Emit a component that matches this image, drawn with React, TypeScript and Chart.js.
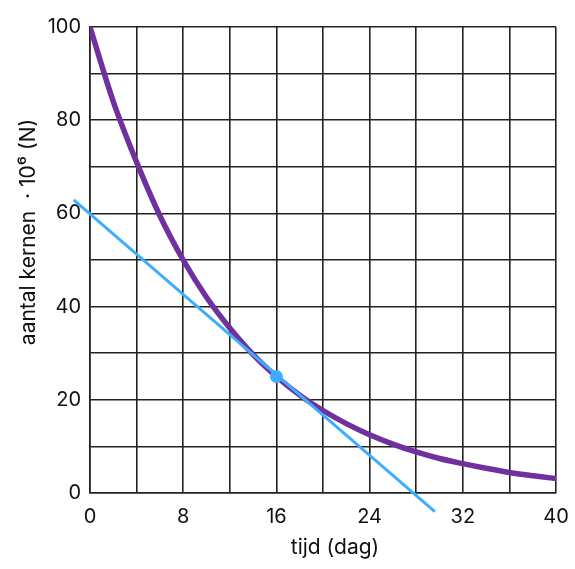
import React, { useEffect, useRef } from 'react';
import { Chart, registerables } from 'chart.js';

Chart.register(...registerables);

// tijd (dag) en aantal kernen (x 10^6)
const days = [0, 2, 4, 6, 8, 10, 12, 14, 16, 18, 20, 22, 24, 26, 28, 30, 32, 34, 36, 38, 40];
const nuclei = [100, 84, 71, 59.5, 50, 42, 35.4, 29.7, 25, 21, 17.7, 14.9, 12.5, 10.5, 8.8, 7.4, 6.3, 5.3, 4.4, 3.7, 3.1];

// raaklijn bij t = 16
const tangentX = [-1.4, 29.6];
const tangentY = [62.9, -4.0];
const pointX = [16];
const pointY = [25];

const xTicks = [0, 8, 16, 24, 32, 40];
const yTicks = [0, 20, 40, 60, 80, 100];

const xTitle = 'tijd (dag)';
const yTitle = 'aantal kernen  · 10⁶ (N)';

const PURPLE = '#7030a0';
const BLUE = '#3daeff';
const GRID = '#222222';
const FONT = 'Inter, "Noto Sans", sans-serif';

const axisTitles = {
  id: 'axisTitles',
  afterDraw(chart: Chart) {
    const { ctx, chartArea } = chart;
    ctx.save();
    ctx.fillStyle = '#111';
    ctx.font = `21px ${FONT}`;
    ctx.textAlign = 'center';
    ctx.textBaseline = 'middle';
    ctx.fillText(xTitle, (chartArea.left + chartArea.right) / 2 + 12, chartArea.bottom + 55);
    ctx.translate(29, (chartArea.top + chartArea.bottom) / 2 - 28);
    ctx.rotate(-Math.PI / 2);
    ctx.fillText(yTitle, 0, 0);
    ctx.restore();
  },
};

const HalfLifeChart = () => {
  const chartRef = useRef<HTMLCanvasElement>(null);
  const chartInstanceRef = useRef<Chart | null>(null);

  useEffect(() => {
    document.body.style.margin = '0';
    const canvas = chartRef.current;
    if (!canvas) return;
    const ctx = canvas.getContext('2d');
    if (!ctx) return;

    chartInstanceRef.current = new Chart(ctx, {
      type: 'line',
      data: {
        datasets: [
          {
            label: 'punt',
            data: pointX.map((x, i) => ({ x, y: pointY[i] })),
            showLine: false,
            pointRadius: 6.5,
            pointBackgroundColor: BLUE,
            pointBorderWidth: 0,
            order: 0,
          },
          {
            label: 'raaklijn',
            data: tangentX.map((x, i) => ({ x, y: tangentY[i] })),
            borderColor: BLUE,
            borderWidth: 3,
            pointRadius: 0,
            clip: false,
            order: 1,
          },
          {
            label: 'N',
            data: days.map((x, i) => ({ x, y: nuclei[i] })),
            borderColor: PURPLE,
            borderWidth: 5.5,
            pointRadius: 0,
            cubicInterpolationMode: 'monotone',
            borderCapStyle: 'round',
            order: 2,
          },
        ],
      },
      options: {
        animation: false,
        responsive: false,
        layout: { padding: { top: 27, right: 19, bottom: 0, left: 0 } },
        plugins: {
          legend: { display: false },
          tooltip: { enabled: false },
        },
        scales: {
          x: {
            type: 'linear',
            min: 0,
            max: 40,
            afterFit: (scale: any) => {
              scale.height = 76;
              scale.paddingLeft = 0;
              scale.paddingRight = 0;
            },
            ticks: {
              stepSize: 4,
              padding: 12,
              color: '#111',
              font: { family: FONT, size: 20 },
              maxRotation: 0,
              callback: (v: any) => (xTicks.includes(Number(v)) ? String(v) : ''),
            },
            grid: { color: GRID, lineWidth: 1.6, drawTicks: false },
            border: { color: GRID, width: 1.6 },
          },
          y: {
            type: 'linear',
            min: 0,
            max: 100,
            afterFit: (scale: any) => {
              scale.width = 90;
              scale.paddingTop = 0;
              scale.paddingBottom = 0;
            },
            ticks: {
              stepSize: 10,
              padding: 9,
              color: '#111',
              font: { family: FONT, size: 20 },
              callback: (v: any) => (yTicks.includes(Number(v)) ? String(v) : ''),
            },
            grid: { color: GRID, lineWidth: 1.6, drawTicks: false },
            border: { color: GRID, width: 1.6 },
          },
        },
      },
      plugins: [axisTitles],
    });

    return () => {
      if (chartInstanceRef.current) {
        chartInstanceRef.current.destroy();
      }
    };
  }, []);

  return (
    <div style={{ width: 575, height: 569 }}>
      <canvas ref={chartRef} width={575} height={569}></canvas>
    </div>
  );
};

export default function App() {
  return <HalfLifeChart />;
}
